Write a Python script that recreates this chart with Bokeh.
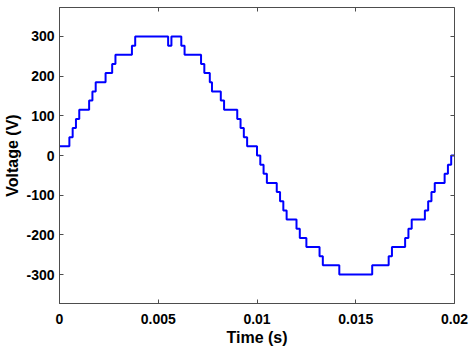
from bokeh.plotting import figure
from bokeh.models import Range1d, LinearAxis, FixedTicker, CustomJSTickFormatter
from bokeh.embed import file_html
from bokeh.resources import INLINE

# Switching instants (s) and staircase voltage held from each instant (V)
t_switch = [0.0, 0.0005, 0.000667, 0.000833, 0.001, 0.0015, 0.001667, 0.001833,
            0.002333, 0.002667, 0.002833, 0.003667, 0.003833, 0.0055, 0.005667,
            0.006167, 0.006333, 0.007167, 0.007333, 0.00761, 0.00772, 0.008167,
            0.008333, 0.009, 0.009167, 0.009333, 0.0095, 0.01, 0.010167, 0.010333,
            0.0105, 0.011, 0.011167, 0.011333, 0.0115, 0.012, 0.012167, 0.0125,
            0.013167, 0.013333, 0.014167, 0.015833, 0.016667, 0.016833, 0.0175,
            0.017667, 0.017833, 0.0185, 0.018667, 0.018833, 0.019, 0.0195,
            0.019667, 0.019833, 0.02]
v_level = [23.1, 46.2, 69.2, 92.3, 115.4, 138.5, 161.5, 184.6,
           207.7, 230.8, 253.8, 276.9, 300.0, 276.9, 300.0,
           276.9, 253.8, 230.8, 207.7, 184.6, 161.5, 138.5,
           115.4, 92.3, 69.2, 46.2, 23.1, 0.0, -23.1, -46.2,
           -69.2, -92.3, -115.4, -138.5, -161.5, -184.6, -207.7, -230.8,
           -253.8, -276.9, -300.0, -276.9, -253.8, -230.8, -207.7,
           -184.6, -161.5, -138.5, -115.4, -92.3, -69.2, -46.2,
           -23.1, 0.0, 0.0]

x_ticks = [0, 0.005, 0.01, 0.015, 0.02]
x_tick_labels = ["0", "0.005", "0.01", "0.015", "0.02"]
y_ticks = [-300, -200, -100, 0, 100, 200, 300]

FONT = "Liberation Sans"
AXC = "#4d4d4d"

p = figure(frame_width=395, frame_height=296, output_backend="svg",
           toolbar_location=None, x_range=Range1d(0, 0.02),
           y_range=Range1d(-373, 373),
           min_border_left=59, min_border_top=7, min_border_right=18,
           min_border_bottom=51)
p.background_fill_color = "white"
p.border_fill_color = "white"
p.grid.visible = False
p.outline_line_color = AXC
p.outline_line_width = 1

p.step(t_switch, v_level, mode="after", line_color="#0000ff", line_width=2)

def style(ax, ticks, labels=None, show=True):
    ax.ticker = FixedTicker(ticks=ticks)
    ax.major_tick_in = 4
    ax.major_tick_out = 0
    ax.minor_tick_line_color = None
    ax.major_tick_line_color = AXC
    ax.axis_line_color = AXC
    ax.major_label_text_font = FONT
    ax.major_label_text_font_style = "bold"
    ax.major_label_text_font_size = "14px"
    ax.major_label_text_color = "black"
    ax.axis_label_text_font = FONT
    ax.axis_label_text_font_style = "bold"
    ax.axis_label_text_font_size = "16px"
    ax.axis_label_text_color = "black"
    if labels is not None:
        ax.major_label_overrides = {t: l for t, l in zip(ticks, labels)}
    if not show:
        ax.formatter = CustomJSTickFormatter(code="return ''")
        ax.major_label_standoff = 0
        ax.axis_line_color = None

xa = p.xaxis[0]
style(xa, x_ticks, x_tick_labels)
xa.axis_label = "Time (s)"
xa.major_label_standoff = 10
xa.axis_label_standoff = 2

ya = p.yaxis[0]
style(ya, y_ticks, [str(v) for v in y_ticks])
ya.axis_label = "Voltage (V)"
ya.major_label_standoff = 5
ya.axis_label_standoff = 2

top = LinearAxis()
style(top, x_ticks, show=False)
p.add_layout(top, "above")
right = LinearAxis()
style(right, y_ticks, show=False)
p.add_layout(right, "right")

open("out.html", "w").write(file_html(p, INLINE))
